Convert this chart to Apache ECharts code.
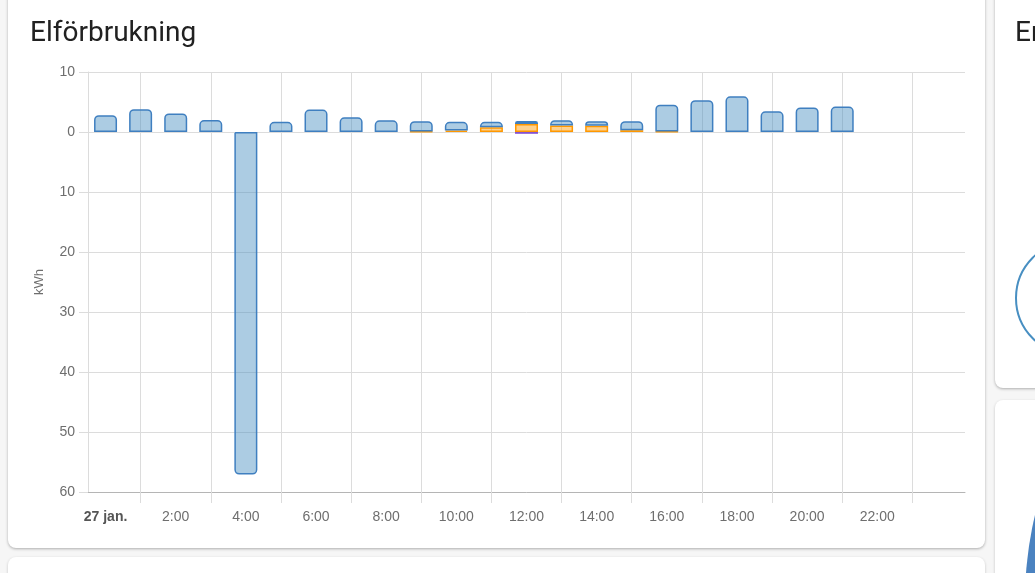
<!DOCTYPE html>
<html>
<head>
<meta charset="utf-8">
<script src="https://cdn.jsdelivr.net/npm/echarts@6/dist/echarts.min.js"></script>
<style>
html,body{margin:0;padding:0;background:#f6f6f6;}
#chart{width:1035px;height:573px;}
</style>
</head>
<body>
<div id="chart"></div>
<script>
// ---- data ----
var hours = [0,1,2,3,4,5,6,7,8,9,10,11,12,13,14,15,16,17,18,19,20,21,22,23];
var gridConsumption = [2.8,3.8,3.1,2.0,-57.1,1.7,3.75,2.45,1.95,1.7,1.45,0.9,0.5,0.85,0.75,1.5,4.45,5.3,5.95,3.45,4.1,4.25,null,null];
var solarUsed = [null,null,null,null,null,null,null,null,null,0.1,0.25,0.8,1.35,1.1,1.05,0.3,0.1,null,null,null,null,null,null,null];
var gridReturn = [null,null,null,null,null,null,null,null,null,null,null,null,-0.3,null,null,null,null,null,null,null,null,null,null,null];
var tickHours = [0,2,4,6,8,10,12,14,16,18,20,22];
var dateLabel = '27 jan.';
var title = 'Elförbrukning';
var unit = 'kWh';

// half-hour slots from -0.5h to 24.5h
var slots = [];
for (var k = 0; k <= 50; k++) slots.push(String((k - 1) / 2));
function toSlots(arr, neg) {
  var out = new Array(51).fill(null);
  hours.forEach(function (h, i) {
    var v = arr[i];
    if (v == null) return;
    if (neg && v < 0) out[2 * h + 1] = {value: v, itemStyle: {borderRadius: [0, 0, 4, 4]}};
    else out[2 * h + 1] = v;
  });
  return out;
}

var chart = echarts.init(document.getElementById('chart'), null, {renderer: 'canvas'});
var axisFont = '"Liberation Sans", Arial, sans-serif';
var option = {
  backgroundColor: '#f6f6f6',
  animation: false,
  graphic: [
    {type: 'rect', z: -100, shape: {x: 8, y: -20, width: 977, height: 568, r: 8},
     style: {fill: '#fff', shadowBlur: 3, shadowColor: 'rgba(0,0,0,0.3)', shadowOffsetY: 1}},
    {type: 'rect', z: -100, shape: {x: 8, y: 557, width: 977, height: 100, r: 8},
     style: {fill: '#fff', shadowBlur: 3, shadowColor: 'rgba(0,0,0,0.2)', shadowOffsetY: 1}},
    {type: 'rect', z: -100, shape: {x: 995, y: -20, width: 100, height: 408, r: 8},
     style: {fill: '#fff', shadowBlur: 3, shadowColor: 'rgba(0,0,0,0.3)', shadowOffsetY: 1}},
    {type: 'rect', z: -100, shape: {x: 995, y: 400, width: 100, height: 300, r: 8},
     style: {fill: '#fff', shadowBlur: 3, shadowColor: 'rgba(0,0,0,0.2)', shadowOffsetY: 1}},
    {type: 'circle', z: -90, shape: {cx: 1073, cy: 298, r: 57},
     style: {fill: 'none', stroke: '#488fc2', lineWidth: 2}},
    {type: 'circle', z: -90, shape: {cx: 1391, cy: 600, r: 366},
     style: {fill: '#4a82c0'}},
    {type: 'text', z: -80, x: 30, y: 34,
     style: {text: title, font: '28px Roboto', fill: '#212121', textVerticalAlign: 'middle'}},
    {type: 'text', z: -80, x: 1015, y: 34,
     style: {text: 'Energi', font: '28px Roboto', fill: '#212121', textVerticalAlign: 'middle'}}
  ],
  grid: {left: 88, right: 70, top: 72, bottom: 81, containLabel: false},
  xAxis: {
    type: 'category',
    data: slots,
    boundaryGap: false,
    position: 'bottom',
    axisLine: {onZero: false, lineStyle: {color: '#b5b5b5', width: 1}},
    axisTick: {show: true, length: 11, interval: function (k) { return k >= 3 && (k - 3) % 4 === 0; },
               lineStyle: {color: '#dcdcdc'}},
    splitLine: {show: true, interval: function (k) { return k >= 3 && (k - 3) % 4 === 0; },
                lineStyle: {color: '#dcdcdc'}},
    axisLabel: {
      interval: function (k, v) { return tickHours.indexOf(Number(v)) >= 0; },
      margin: 18,
      fontFamily: axisFont, fontSize: 14, color: '#6e6e6e',
      formatter: function (v) {
        var h = Number(v);
        if (h === 0) return '{b|' + dateLabel + '}';
        return h + ':00';
      },
      rich: {b: {fontFamily: axisFont, fontSize: 14, fontWeight: 'bold', color: '#555'}}
    }
  },
  yAxis: {
    type: 'value',
    min: -60, max: 10, interval: 10,
    name: unit, nameLocation: 'middle', nameGap: 42,
    nameTextStyle: {fontFamily: axisFont, fontSize: 13, color: '#6e6e6e'},
    axisLine: {show: true, lineStyle: {color: '#dcdcdc'}},
    axisTick: {show: true, length: 9, lineStyle: {color: '#dcdcdc'}},
    splitLine: {lineStyle: {color: '#dcdcdc'}},
    axisLabel: {
      margin: 13, fontFamily: axisFont, fontSize: 14, color: '#6e6e6e',
      formatter: function (v) { return String(Math.abs(v)); }
    }
  },
  series: [
    {name: 'solar', type: 'bar', stack: 'e', barWidth: 23, data: toSlots(solarUsed, false),
     itemStyle: {color: 'rgba(255,152,0,0.45)', borderColor: '#ff9800', borderWidth: 1.5}},
    {name: 'grid', type: 'bar', stack: 'e', barWidth: 23, data: toSlots(gridConsumption, true),
     itemStyle: {color: 'rgba(72,143,194,0.45)', borderColor: '#3f7fc0', borderWidth: 1.5, borderRadius: [4, 4, 0, 0]}},
    {name: 'return', type: 'bar', stack: 'e', barWidth: 23, data: toSlots(gridReturn, false),
     itemStyle: {color: 'rgba(131,83,209,0.45)', borderColor: '#8353d1', borderWidth: 1.5}}
  ]
};
chart.setOption(option);
</script>
</body>
</html>
